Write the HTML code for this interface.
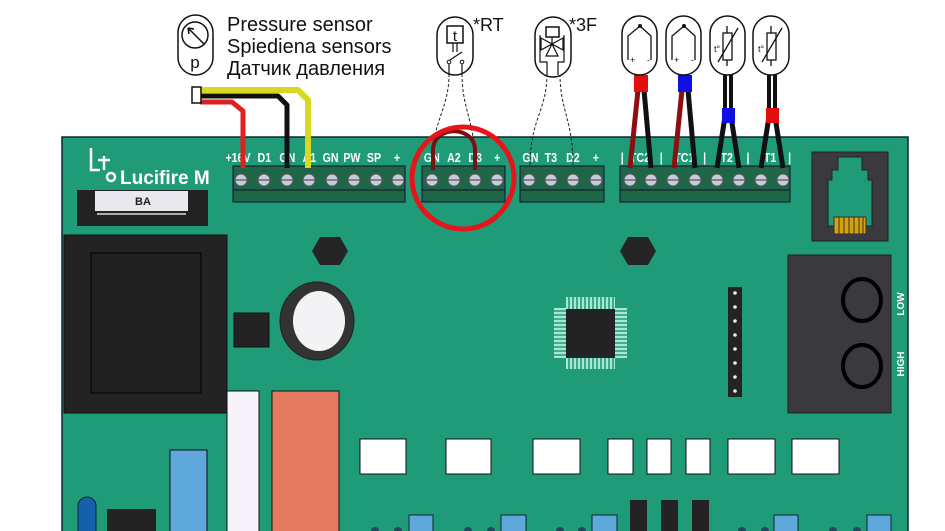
<!DOCTYPE html>
<html><head><meta charset="utf-8"><style>
html,body{margin:0;padding:0;background:#fff;width:945px;height:531px;overflow:hidden}
svg{display:block}
</style></head><body>
<svg width="945" height="531" viewBox="0 0 945 531" xmlns="http://www.w3.org/2000/svg">
<!-- board -->
<rect x="62" y="137" width="846" height="400" fill="#1f9c77" stroke="#123" stroke-width="1.5"/>
<!-- logo -->
<g stroke="#fff" stroke-width="2.5" fill="none">
<path d="M91 148 V170 H100"/><path d="M104 156 V170 M98 160 H110"/><circle cx="111" cy="177" r="4"/>
</g>
<text x="120" y="184" font-family="Liberation Sans,sans-serif" font-weight="bold" font-size="19" fill="#fff">Lucifire M</text>
<!-- BA -->
<rect x="77" y="190" width="131" height="36" fill="#222"/>
<rect x="95" y="191" width="93" height="20" fill="#e8e8ee"/>
<line x1="97" y1="214" x2="186" y2="214" stroke="#ddd" stroke-width="1.5"/>
<text x="143" y="205" font-family="Liberation Sans,sans-serif" font-weight="bold" font-size="11" text-anchor="middle" fill="#222">BA</text>
<!-- transformer -->
<rect x="64" y="235" width="163" height="178" fill="#232323" stroke="#111"/>
<rect x="91" y="253" width="110" height="140" fill="#202020" stroke="#000"/>
<!-- hexagons -->
<polygon points="312,251 320,237 340,237 348,251 340,265 320,265" fill="#252525"/>
<polygon points="620,251 628,237 648,237 656,251 648,265 628,265" fill="#252525"/>
<!-- small black square + buzzer -->
<rect x="234" y="313" width="35" height="34" fill="#232323" stroke="#111"/>
<ellipse cx="317" cy="321" rx="37" ry="39" fill="#333" stroke="#222"/>
<ellipse cx="319" cy="321" rx="26" ry="30" fill="#f3f3f5"/>
<!-- chip -->
<g fill="#a8e6d6">
<rect x="566" y="297" width="49" height="12"/><rect x="566" y="357" width="49" height="12"/>
<rect x="554" y="308" width="13" height="50"/><rect x="614" y="308" width="13" height="50"/>
</g>
<g stroke="#1f9c77" stroke-width="1.6">
<path d="M569 297V309M573 297V309M577 297V309M581 297V309M585 297V309M589 297V309M593 297V309M597 297V309M601 297V309M605 297V309M609 297V309M613 297V309"/>
<path d="M569 357V369M573 357V369M577 357V369M581 357V369M585 357V369M589 357V369M593 357V369M597 357V369M601 357V369M605 357V369M609 357V369M613 357V369"/>
<path d="M554 311H627M554 315H627M554 319H627M554 323H627M554 327H627M554 331H627M554 335H627M554 339H627M554 343H627M554 347H627M554 351H627M554 355H627"/>
</g>
<rect x="566" y="309" width="49" height="49" fill="#232323"/>
<!-- pin header -->
<rect x="728" y="287" width="14" height="110" fill="#232323"/>
<g fill="#f3e8e8"><circle cx="735" cy="293" r="1.8"/><circle cx="735" cy="307" r="1.8"/><circle cx="735" cy="321" r="1.8"/><circle cx="735" cy="335" r="1.8"/><circle cx="735" cy="349" r="1.8"/><circle cx="735" cy="363" r="1.8"/><circle cx="735" cy="377" r="1.8"/><circle cx="735" cy="391" r="1.8"/></g>
<!-- right dark box -->
<rect x="788" y="255" width="103" height="158" fill="#3a3a3e" stroke="#222"/>
<ellipse cx="862" cy="300" rx="19" ry="21" fill="none" stroke="#000" stroke-width="4"/>
<ellipse cx="862" cy="366" rx="19" ry="21" fill="none" stroke="#000" stroke-width="4"/>
<text transform="translate(904,304) rotate(-90)" font-family="Liberation Sans,sans-serif" font-weight="bold" font-size="10" fill="#fff" text-anchor="middle">LOW</text>
<text transform="translate(904,364) rotate(-90)" font-family="Liberation Sans,sans-serif" font-weight="bold" font-size="10" fill="#fff" text-anchor="middle">HIGH</text>
<!-- RJ45 -->
<rect x="812" y="152" width="76" height="89" fill="#3a3a3e" stroke="#222"/>
<path d="M838 157H862V170H868V180H872V226H828V180H832V170H838Z" fill="#1f9c77" stroke="#222"/>
<rect x="834" y="217" width="32" height="17" fill="#d4a20c" stroke="#333"/>
<g stroke="#333" stroke-width="1"><path d="M839 217V234M844 217V234M849 217V234M854 217V234M859 217V234M863 217V234"/></g>
<!-- bottom left components -->
<rect x="227" y="391" width="32" height="145" fill="#f6f4fa" stroke="#111"/>
<rect x="272" y="391" width="67" height="145" fill="#e67a60" stroke="#111"/>
<rect x="170" y="450" width="37" height="90" fill="#5ea8dc" stroke="#111"/>
<rect x="78" y="497" width="18" height="50" rx="9" fill="#1560a8" stroke="#123"/>
<rect x="107" y="509" width="49" height="30" fill="#232323"/>
<!-- white boxes -->
<g fill="#fff" stroke="#111">
<rect x="360" y="439" width="46" height="35"/><rect x="446" y="439" width="45" height="35"/><rect x="533" y="439" width="47" height="35"/>
<rect x="608" y="439" width="25" height="35"/><rect x="647" y="439" width="24" height="35"/><rect x="686" y="439" width="24" height="35"/>
<rect x="728" y="439" width="47" height="35"/><rect x="792" y="439" width="47" height="35"/>
</g>
<!-- bottom -->
<g fill="#232323"><rect x="630" y="500" width="17" height="40"/><rect x="661" y="500" width="17" height="40"/><rect x="692" y="500" width="17" height="40"/></g>
<g fill="#5ea8dc" stroke="#123"><rect x="409" y="515" width="24" height="20"/><rect x="501" y="515" width="25" height="20"/><rect x="592" y="515" width="25" height="20"/><rect x="774" y="515" width="24" height="20"/><rect x="867" y="515" width="24" height="20"/></g>
<g fill="#1d4a5a"><circle cx="375" cy="531" r="4"/><circle cx="398" cy="531" r="4"/><circle cx="468" cy="531" r="4"/><circle cx="491" cy="531" r="4"/><circle cx="560" cy="531" r="4"/><circle cx="582" cy="531" r="4"/><circle cx="742" cy="531" r="4"/><circle cx="765" cy="531" r="4"/><circle cx="833" cy="531" r="4"/><circle cx="857" cy="531" r="4"/></g>

<!-- terminal blocks -->
<g fill="#1f6647" stroke="#113">
<rect x="233" y="166" width="172" height="36"/><rect x="422" y="166" width="83" height="36"/><rect x="520" y="166" width="84" height="36"/><rect x="620" y="166" width="170" height="36"/>
</g>
<g stroke="#113"><path d="M233 190H405M422 190H505M520 190H604M620 190H790"/></g>
<g fill="#c8ccd6" stroke="#556">
<circle cx="241" cy="180" r="6"/><circle cx="264" cy="180" r="6"/><circle cx="287" cy="180" r="6"/><circle cx="309" cy="180" r="6"/><circle cx="332" cy="180" r="6"/><circle cx="354" cy="180" r="6"/><circle cx="376" cy="180" r="6"/><circle cx="398" cy="180" r="6"/>
<circle cx="432" cy="180" r="6"/><circle cx="454" cy="180" r="6"/><circle cx="475" cy="180" r="6"/><circle cx="497" cy="180" r="6"/>
<circle cx="529" cy="180" r="6"/><circle cx="551" cy="180" r="6"/><circle cx="573" cy="180" r="6"/><circle cx="596" cy="180" r="6"/>
<circle cx="630" cy="180" r="6"/><circle cx="651" cy="180" r="6"/><circle cx="673" cy="180" r="6"/><circle cx="695" cy="180" r="6"/><circle cx="717" cy="180" r="6"/><circle cx="739" cy="180" r="6"/><circle cx="761" cy="180" r="6"/><circle cx="783" cy="180" r="6"/>
</g>
<g stroke="#556" stroke-width="1.2"><path d="M235 180h12M258 180h12M281 180h12M303 180h12M326 180h12M348 180h12M370 180h12M392 180h12M426 180h12M448 180h12M469 180h12M491 180h12M523 180h12M545 180h12M567 180h12M590 180h12M624 180h12M645 180h12M667 180h12M689 180h12M711 180h12M733 180h12M755 180h12M777 180h12"/></g>
<g style="font-family:'Liberation Sans',sans-serif;font-weight:bold;font-size:12.5px;fill:#fff;text-anchor:middle" transform="scale(0.85,1)">
<text x="280" y="162">+16V</text><text x="311" y="162">D1</text><text x="338" y="162">GN</text><text x="364" y="162">A1</text><text x="389" y="162">GN</text><text x="414" y="162">PW</text><text x="440" y="162">SP</text><text x="467" y="162">+</text>
<text x="508" y="162">GN</text><text x="534" y="162">A2</text><text x="559" y="162">D3</text><text x="585" y="162">+</text>
<text x="624" y="162">GN</text><text x="648" y="162">T3</text><text x="674" y="162">D2</text><text x="701" y="162">+</text>
<text x="732" y="162">|</text><text x="753" y="162">TC2</text><text x="778" y="162">|</text><text x="805" y="162">TC1</text><text x="829" y="162">|</text><text x="855" y="162">T2</text><text x="880" y="162">|</text><text x="906" y="162">T1</text><text x="929" y="162">|</text>
</g>

<!-- pressure sensor -->
<rect x="178" y="15" width="35" height="60" rx="17.5" fill="#fff" stroke="#111" stroke-width="1.5"/>
<circle cx="195" cy="35" r="13" fill="none" stroke="#111" stroke-width="1.5"/>
<path d="M204 44L188 28M188 28l1 6M188 28l6 1" stroke="#111" stroke-width="1.5" fill="none"/>
<text x="195" y="68" font-family="Liberation Sans,sans-serif" font-size="17" text-anchor="middle" fill="#111">p</text>
<g font-family="Liberation Sans,sans-serif" font-size="20" fill="#111">
<text x="227" y="31">Pressure sensor</text><text x="227" y="53">Spiediena sensors</text><text x="227" y="75">Датчик давления</text>
</g>
<!-- pressure wires -->
<g fill="none" stroke-width="5" stroke-linejoin="round">
<path d="M200 90H298L308 100V168" stroke="#d8d820" stroke-width="6"/>
<path d="M200 96H278L287 105V168" stroke="#111"/>
<path d="M200 102H232L243 111V168" stroke="#e02020"/>
</g>
<rect x="192" y="87" width="9" height="16" fill="#fff" stroke="#111" stroke-width="1.5"/>

<!-- RT -->
<path d="M449 74C449 110 432 120 432 165M462 74C462 110 475 120 475 165" stroke="#222" stroke-dasharray="3,2" fill="none"/>
<rect x="437" y="17" width="36" height="58" rx="18" fill="#fff" stroke="#111" stroke-width="1.5"/>
<rect x="447" y="26" width="16" height="17" fill="#fff" stroke="#111" stroke-width="1.5"/>
<text x="455" y="41" font-family="Liberation Sans,sans-serif" font-size="15" text-anchor="middle" fill="#111">t</text>
<path d="M453 43V52M457 43V52M450 60L462 52M449 62V74M462 62V74" stroke="#111" stroke-width="1.2" fill="none"/>
<circle cx="449" cy="62" r="1.8" fill="#fff" stroke="#111"/><circle cx="462" cy="62" r="1.8" fill="#fff" stroke="#111"/>
<text x="473" y="31" font-family="Liberation Sans,sans-serif" font-size="18" fill="#111">*RT</text>
<!-- 3F -->
<path d="M547 74C547 110 530 120 530 165M560 74C560 110 573 120 573 165" stroke="#222" stroke-dasharray="3,2" fill="none"/>
<rect x="535" y="17" width="36" height="60" rx="18" fill="#fff" stroke="#111" stroke-width="1.5"/>
<rect x="546" y="27" width="13" height="10" fill="#fff" stroke="#111" stroke-width="1.5"/>
<path d="M552 37V44M541 38L552 44L541 50ZM563 38L552 44L563 50ZM552 44L546 56H558Z M540 35V62H547V75M564 35V62H558V75" stroke="#111" stroke-width="1.2" fill="none"/>
<text x="569" y="31" font-family="Liberation Sans,sans-serif" font-size="18" fill="#111">*3F</text>

<!-- TC / T sensor wires -->
<g fill="none" stroke-width="5">
<path d="M638 90L630 168" stroke="#8a1010"/><path d="M644 90L651 168" stroke="#111"/>
<path d="M682 90L674 168" stroke="#8a1010"/><path d="M688 90L695 168" stroke="#111"/>
<path d="M726 110L717 168" stroke="#111"/><path d="M730 110L739 168" stroke="#111"/>
<path d="M770 110L761 168" stroke="#111"/><path d="M774 110L783 168" stroke="#111"/>
<path d="M725 75V112M731 75V112M769 75V112M775 75V112" stroke="#111" stroke-width="4"/>
</g>
<rect x="634" y="75" width="14" height="17" fill="#e01010"/>
<rect x="678" y="75" width="14" height="17" fill="#1010e0"/>
<rect x="722" y="108" width="13" height="15" fill="#1010e0"/>
<rect x="766" y="108" width="13" height="15" fill="#e01010"/>
<g fill="#fff" stroke="#111" stroke-width="1.5">
<rect x="622" y="16" width="35" height="59" rx="17.5"/><rect x="666" y="16" width="35" height="59" rx="17.5"/>
<rect x="710" y="16" width="35" height="59" rx="17.5"/><rect x="753" y="16" width="36" height="59" rx="18"/>
</g>
<g fill="none" stroke="#111" stroke-width="1.3">
<path d="M628 60V36L640 26L651 36V60"/><path d="M672 60V36L684 26L695 36V60"/>
<rect x="723" y="33" width="9" height="27"/><path d="M727 26V33M727 60V66M718 62L738 28"/>
<rect x="767" y="33" width="9" height="27"/><path d="M771 26V33M771 60V66M762 62L782 28"/>
</g>
<circle cx="640" cy="26" r="2" fill="#111"/><circle cx="684" cy="26" r="2" fill="#111"/>
<g font-family="Liberation Sans,sans-serif" font-size="9" fill="#111">
<text x="630" y="63">+</text><text x="647" y="63">-</text><text x="674" y="63">+</text><text x="691" y="63">-</text>
<text x="714" y="52">t°</text><text x="758" y="52">t°</text>
</g>

<!-- jumper + red circle -->
<path d="M433 170V150C433 125 475 125 475 150V170" fill="none" stroke="#7a1010" stroke-width="4"/>
<circle cx="463" cy="178" r="51" fill="none" stroke="#e8141c" stroke-width="5"/>
</svg>
</body></html>
